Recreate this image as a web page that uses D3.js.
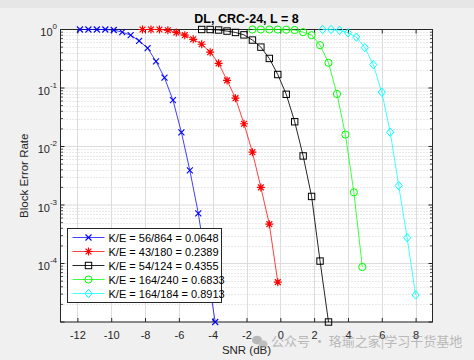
<!DOCTYPE html>
<html>
<head>
<meta charset="utf-8">
<script src="https://cdn.jsdelivr.net/npm/d3@7"></script>
<style>
  html, body { margin: 0; padding: 0; background: #f0f0f0; }
  svg { display: block; }
</style>
</head>
<body>
<svg id="chart" width="474" height="360"></svg>
<script>
// ---------------- data ----------------
const titleText = "DL, CRC-24, L = 8";
const xLabelText = "SNR (dB)";
const yLabelText = "Block Error Rate";
const xTicks = [-12, -10, -8, -6, -4, -2, 0, 2, 4, 6, 8];
const yTickExponents = [0, -1, -2, -3, -4];

const legendLabels = [
  "K/E = 56/864 = 0.0648",
  "K/E = 43/180 = 0.2389",
  "K/E = 54/124 = 0.4355",
  "K/E = 164/240 = 0.6833",
  "K/E = 164/184 = 0.8913"
];

const snrBlue  = [-11.85, -11.35, -10.85, -10.35, -9.85, -9.35, -8.85, -8.35, -7.85, -7.35, -6.85, -6.35, -5.85, -5.35, -4.85, -3.85];
const blerBlue = [1, 1, 1, 1, 0.98, 0.90, 0.80, 0.64, 0.48, 0.285, 0.15, 0.062, 0.0175, 0.0039, 7.2e-4, 1e-5];

const snrRed  = [-8.15, -7.65, -7.15, -6.65, -6.15, -5.65, -5.15, -4.65, -4.15, -3.65, -3.15, -2.65, -2.15, -1.65, -1.15, -0.65, -0.15];
const blerRed = [1, 1, 1, 0.97, 0.89, 0.80, 0.68, 0.56, 0.41, 0.264, 0.135, 0.067, 0.0245, 0.008, 0.002, 4.7e-4, 4.8e-5];

const snrBlack  = [-4.65, -4.15, -3.65, -3.15, -2.65, -2.15, -1.65, -1.15, -0.65, -0.15, 0.35, 0.85, 1.35, 1.85, 2.35, 2.85];
const blerBlack = [1, 1, 0.98, 0.94, 0.89, 0.81, 0.66, 0.50, 0.32, 0.17, 0.078, 0.0265, 0.0069, 0.0014, 1.1e-4, 1e-5];

const snrGreen  = [-1.65, -1.15, -0.65, -0.15, 0.35, 0.85, 1.35, 1.85, 2.35, 2.85, 3.35, 3.85, 4.35, 4.85];
const blerGreen = [1, 1, 1, 1, 0.99, 0.98, 0.90, 0.80, 0.54, 0.27, 0.079, 0.016, 0.00165, 8.7e-5];

const snrCyan  = [2.5, 3.0, 3.5, 4.0, 4.5, 5.0, 5.5, 6.0, 6.5, 7.0, 7.5, 8.0];
const blerCyan = [1, 1, 0.97, 0.88, 0.74, 0.49, 0.25, 0.085, 0.0175, 0.00215, 2.76e-4, 2.9e-5];

const watermarkText = "公众号 · 珞瑜之家|学习干货基地";

// ---------------- setup ----------------
const series = [
  { x: snrBlue,  y: blerBlue,  color: "#0000ff", marker: "x" },
  { x: snrRed,   y: blerRed,   color: "#ff0000", marker: "*" },
  { x: snrBlack, y: blerBlack, color: "#000000", marker: "s" },
  { x: snrGreen, y: blerGreen, color: "#00ff00", marker: "o" },
  { x: snrCyan,  y: blerCyan,  color: "#00ffff", marker: "d" }
];

const svg = d3.select("#chart");
const W = 474, H = 360;
const L = 60.5, R = 432.5, T = 29.5, B = 322;
const axisColor = "#262626";
const font = "Arial, 'Liberation Sans', Helvetica, sans-serif";

svg.append("rect").attr("x", 0).attr("y", 0).attr("width", W).attr("height", H).attr("fill", "#f0f0f0");
svg.append("rect").attr("x", 0).attr("y", 0).attr("width", W).attr("height", 8).attr("fill", "#e6e6e6");

const x = d3.scaleLinear().domain([-13, 9]).range([L, R]);
const y = d3.scaleLog().domain([1e-5, 1]).range([B, T]);

// plot background
svg.append("rect").attr("x", L).attr("y", T).attr("width", R - L).attr("height", B - T).attr("fill", "#ffffff");

// minor grid (horizontal, log)
const minorVals = [];
for (let e = -5; e < 0; e++) for (let m = 2; m <= 9; m++) minorVals.push(m * Math.pow(10, e));
const grid = svg.append("g");
grid.selectAll("line.minor").data(minorVals).join("line")
  .attr("x1", L).attr("x2", R)
  .attr("y1", d => Math.round(y(d)) + 0.5).attr("y2", d => Math.round(y(d)) + 0.5)
  .attr("stroke", "#c8c8c8").attr("stroke-width", 0.8).attr("stroke-dasharray", "1,2");

// major grid
const yMajor = yTickExponents.map(e => Math.pow(10, e)).concat([1e-5]);
grid.selectAll("line.hmaj").data(yMajor).join("line")
  .attr("x1", L).attr("x2", R)
  .attr("y1", d => y(d)).attr("y2", d => y(d))
  .attr("stroke", "#dcdcdc").attr("stroke-width", 1);
grid.selectAll("line.vmaj").data(xTicks).join("line")
  .attr("x1", d => Math.round(x(d)) + 0.5).attr("x2", d => Math.round(x(d)) + 0.5)
  .attr("y1", T).attr("y2", B)
  .attr("stroke", "#dcdcdc").attr("stroke-width", 1);

// axes via d3 axes (ticks inside)
const xAxisB = d3.axisBottom(x).tickValues(xTicks).tickSizeInner(-4).tickSizeOuter(0)
  .tickFormat(d => d < 0 ? "-" + Math.abs(d) : String(d));
const gxb = svg.append("g").attr("transform", `translate(0,${B})`).call(xAxisB);
gxb.select(".domain").remove();
gxb.selectAll(".tick line").attr("stroke", axisColor);
gxb.selectAll(".tick text").attr("fill", axisColor).attr("font-family", font).attr("font-size", 11)
  .attr("y", 9).attr("dy", "0.71em");

const xAxisT = d3.axisTop(x).tickValues(xTicks).tickSizeInner(-4).tickSizeOuter(0).tickFormat("");
const gxt = svg.append("g").attr("transform", `translate(0,${T})`).call(xAxisT);
gxt.select(".domain").remove();
gxt.selectAll(".tick line").attr("stroke", axisColor);

// y ticks, major and minor, left and right
const ticksG = svg.append("g");
[[L, 1], [R, -1]].forEach(([xx, dir]) => {
  ticksG.selectAll(null).data(yMajor).join("line")
    .attr("x1", xx).attr("x2", xx + dir * 4)
    .attr("y1", d => y(d)).attr("y2", d => y(d))
    .attr("stroke", axisColor).attr("stroke-width", 1);
  ticksG.selectAll(null).data(minorVals).join("line")
    .attr("x1", xx).attr("x2", xx + dir * 2.5)
    .attr("y1", d => y(d)).attr("y2", d => y(d))
    .attr("stroke", axisColor).attr("stroke-width", 0.8);
});

// y tick labels 10^e
const yl = svg.append("g");
yTickExponents.forEach(e => {
  const ty = y(Math.pow(10, e));
  const t = yl.append("text")
    .attr("x", 57).attr("y", ty + 6.5)
    .attr("text-anchor", "end").attr("fill", axisColor)
    .attr("font-family", font).attr("font-size", 11);
  t.append("tspan").text("10");
  t.append("tspan").attr("dy", -7).attr("font-size", 8).text(e === 0 ? "0" : "-" + Math.abs(e));
});

// box
svg.append("rect").attr("x", L).attr("y", T).attr("width", R - L).attr("height", B - T)
  .attr("fill", "none").attr("stroke", axisColor).attr("stroke-width", 1);

// ---------------- markers ----------------
function drawMarker(g, type, cx, cy, color) {
  if (type === "x") {
    const s = 3;
    g.append("path").attr("d", `M${cx - s},${cy - s}L${cx + s},${cy + s}M${cx - s},${cy + s}L${cx + s},${cy - s}`)
      .attr("stroke", color).attr("stroke-width", 1.1).attr("fill", "none");
  } else if (type === "*") {
    const s = 4, d = 2.9;
    g.append("path").attr("d", `M${cx - s},${cy}L${cx + s},${cy}M${cx},${cy - s}L${cx},${cy + s}M${cx - d},${cy - d}L${cx + d},${cy + d}M${cx - d},${cy + d}L${cx + d},${cy - d}`)
      .attr("stroke", color).attr("stroke-width", 1.2).attr("fill", "none");
  } else if (type === "s") {
    const s = 3.2;
    g.append("rect").attr("x", cx - s).attr("y", cy - s).attr("width", 2 * s).attr("height", 2 * s)
      .attr("stroke", color).attr("stroke-width", 1).attr("fill", "none");
  } else if (type === "o") {
    g.append("circle").attr("cx", cx).attr("cy", cy).attr("r", 3.6)
      .attr("stroke", color).attr("stroke-width", 1).attr("fill", "none");
  } else if (type === "d") {
    const w = 3.6, h = 4.2;
    g.append("path").attr("d", `M${cx},${cy - h}L${cx + w},${cy}L${cx},${cy + h}L${cx - w},${cy}Z`)
      .attr("stroke", color).attr("stroke-width", 1).attr("fill", "none");
  }
}

const line = d3.line().x(d => x(d[0])).y(d => y(d[1]));
const plotG = svg.append("g");
series.forEach(s => {
  const pts = s.x.map((v, i) => [v, s.y[i]]);
  plotG.append("path").datum(pts).attr("d", line)
    .attr("fill", "none").attr("stroke", s.color).attr("stroke-width", 1)
    .attr("stroke-opacity", s.color === "#000000" ? 0.85 : 0.75);
  const mg = plotG.append("g");
  pts.forEach(p => drawMarker(mg, s.marker, x(p[0]), y(p[1]), s.color));
});

// ---------------- legend ----------------
const lg = svg.append("g");
const lx = 67.5, ly = 228.5, lw = 154, lh = 74;
lg.append("rect").attr("x", lx).attr("y", ly).attr("width", lw).attr("height", lh)
  .attr("fill", "#ffffff").attr("stroke", axisColor).attr("stroke-width", 1);
series.forEach((s, i) => {
  const cy = ly + 9 + i * 14;
  lg.append("line").attr("x1", lx + 5).attr("x2", lx + 37).attr("y1", cy).attr("y2", cy)
    .attr("stroke", s.color).attr("stroke-width", 1).attr("stroke-opacity", s.color === "#000000" ? 0.85 : 0.75);
  drawMarker(lg, s.marker, lx + 21, cy, s.color);
  lg.append("text").attr("x", lx + 41).attr("y", cy + 4)
    .attr("font-family", font).attr("font-size", 11).attr("fill", "#000")
    .text(legendLabels[i]);
});

// ---------------- titles ----------------
svg.append("text").attr("x", (L + R) / 2).attr("y", 23)
  .attr("text-anchor", "middle").attr("font-family", font).attr("font-size", 12.5)
  .attr("font-weight", "bold").attr("fill", "#000").text(titleText);

svg.append("text").attr("x", (L + R) / 2).attr("y", 354)
  .attr("text-anchor", "middle").attr("font-family", font).attr("font-size", 11.5)
  .attr("fill", axisColor).text(xLabelText);

svg.append("text").attr("transform", `translate(28,${(T + B) / 2}) rotate(-90)`)
  .attr("text-anchor", "middle").attr("font-family", font).attr("font-size", 11.5)
  .attr("fill", axisColor).text(yLabelText);

// ---------------- watermark ----------------
const wm = svg.append("g").attr("opacity", 0.55);
wm.append("ellipse").attr("cx", 257).attr("cy", 340).attr("rx", 5).attr("ry", 4.2).attr("fill", "#8a8a8a");
wm.append("ellipse").attr("cx", 263).attr("cy", 344).attr("rx", 4.5).attr("ry", 3.8).attr("fill", "#9a9a9a");
wm.append("text").attr("x", 271).attr("y", 346)
  .attr("font-family", "'Noto Sans CJK SC', sans-serif").attr("font-size", 13)
  .attr("fill", "#8c8c8c").text(watermarkText);
</script>
</body>
</html>
